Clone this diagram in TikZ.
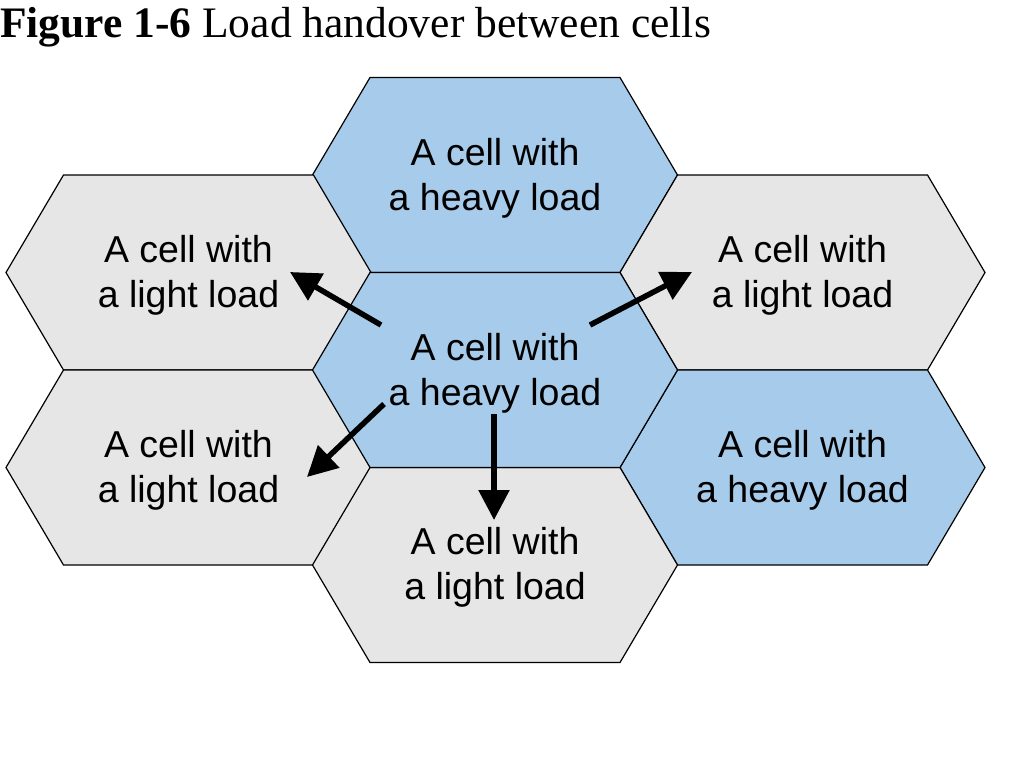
\documentclass[tikz,border=0pt]{standalone}
\usepackage{fontspec}
\setmainfont{Liberation Serif}
\newfontfamily\arial{Liberation Sans}
\usetikzlibrary{arrows.meta}
\definecolor{heavy}{HTML}{A7CBEA}
\definecolor{light}{HTML}{E6E6E6}
\begin{document}
\begin{tikzpicture}[x=1pt,y=-1pt,
  hexl/.style={draw=black,line width=1.2pt,fill=light},
  hexh/.style={draw=black,line width=1.2pt,fill=heavy},
  lbl/.style={font=\arial\fontsize{37.5}{45}\selectfont,align=center},
  arr/.style={line width=5.5pt,-{Triangle[length=30pt,width=30pt]}}]
\useasboundingbox (0,0) rectangle (1020,782);
\newcommand\hexat[3]{\path[#1] (#2-182.5,#3) -- (#2-125,#3-97.5) -- (#2+125,#3-97.5) -- (#2+182.5,#3) -- (#2+125,#3+97.5) -- (#2-125,#3+97.5) -- cycle;}
\hexat{hexh}{495}{175}
\hexat{hexl}{188.5}{272.5}
\hexat{hexl}{188.5}{467.5}
\hexat{hexl}{802.5}{272.5}
\hexat{hexh}{802.5}{467.5}
\hexat{hexl}{495}{565}
\hexat{hexh}{495}{370}
\node[lbl] (top) at (495,178) {A cell with\\a heavy load};
\node[lbl] (lu) at (188.5,275) {A cell with\\a light load};
\node[lbl] (ll) at (188.5,470) {A cell with\\a light load};
\node[lbl] (ru) at (802.5,275) {A cell with\\a light load};
\node[lbl] (rl) at (802.5,470) {A cell with\\a heavy load};
\node[lbl] (bot) at (495,567) {A cell with\\a light load};
\node[lbl] (ctr) at (495,373) {A cell with\\a heavy load};
\node[anchor=base west,inner sep=0,font=\fontsize{43.5}{45}\selectfont] (title) at (0,37) {\textbf{Figure 1-6} Load handover between cells};
\coordinate (a1s) at (381,325); \coordinate (a1e) at (290,272);
\coordinate (a2s) at (590,325); \coordinate (a2e) at (692,272);
\coordinate (a3s) at (384,404); \coordinate (a3e) at (307,477);
\coordinate (a4s) at (494,414); \coordinate (a4e) at (494,520);
\draw[arr] (a1s) -- (a1e);
\draw[arr] (a2s) -- (a2e);
\draw[arr] (a3s) -- (a3e);
\draw[arr] (a4s) -- (a4e);
\end{tikzpicture}
\end{document}
